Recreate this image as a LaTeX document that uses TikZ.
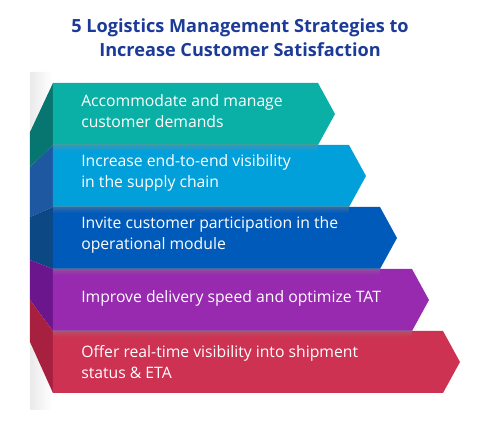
\documentclass[tikz,border=0pt]{standalone}
\usepackage{fontspec}
\setmainfont{Open Sans}
\definecolor{titleblue}{RGB}{28,58,152}
\definecolor{tealfront}{RGB}{10,175,166}
\definecolor{tealside}{RGB}{8,118,112}
\definecolor{skyfront}{RGB}{2,160,218}
\definecolor{skyside}{RGB}{30,88,160}
\definecolor{royalfront}{RGB}{0,90,186}
\definecolor{royalside}{RGB}{12,72,132}
\definecolor{purplefront}{RGB}{152,42,176}
\definecolor{purpleside}{RGB}{108,22,142}
\definecolor{redfront}{RGB}{206,50,82}
\definecolor{redside}{RGB}{168,32,64}

\begin{document}
\begin{tikzpicture}[x=0.75pt, y=-0.75pt,
    title/.style = {text = titleblue, font = \fontsize{13.6}{16.5}\selectfont\bfseries, align = center, inner sep = 0},
    bandtext/.style = {text = white, font = \fontsize{11.8}{15.75}\selectfont, align = left, anchor = west, inner sep = 0},
    topshade/.style = {top color = black!45, bottom color = #1, opacity = 0.35}]
    \useasboundingbox (0, 0) rectangle (480, 423);
    \fill[white] (0, 0) rectangle (480, 423);
    \shade[left color = black!8, right color = white] (30, 72) -- (50, 72) -- (53, 83) -- (30, 132) -- cycle;
    \shade[left color = black!8, right color = white] (30, 342) -- (53, 393) -- (50, 410) -- (30, 410) -- cycle;
    \node[title] (Title Line One) at (240, 28) {5 Logistics Management Strategies to};
    \node[title] (Title Line Two) at (240, 50) {Increase Customer Satisfaction};
    \fill[tealside] (53, 83) -- (53, 145) -- (30, 167) -- (30, 132) -- cycle;
    \fill[skyside] (53, 145) -- (53, 207) -- (30, 217) -- (30, 167) -- cycle;
    \fill[royalside] (53, 207) -- (53, 269) -- (30, 260) -- (30, 217) -- cycle;
    \fill[purpleside] (53, 269) -- (53, 331) -- (30, 300) -- (30, 260) -- cycle;
    \fill[redside] (53, 331) -- (53, 393) -- (30, 342) -- (30, 300) -- cycle;
    \fill[tealfront] (53, 83) -- (318, 83) -- (335, 114) -- (318, 145) -- (53, 145) -- cycle;
    \fill[skyfront] (53, 145) -- (349, 145) -- (366, 176) -- (349, 207) -- (53, 207) -- cycle;
    \fill[royalfront] (53, 207) -- (380, 207) -- (397, 238) -- (380, 269) -- (53, 269) -- cycle;
    \fill[purplefront] (53, 269) -- (412, 269) -- (429, 300) -- (412, 331) -- (53, 331) -- cycle;
    \fill[redfront] (53, 331) -- (443, 331) -- (460, 362) -- (443, 393) -- (53, 393) -- cycle;
    \shade[topshade = skyfront] (53, 145) rectangle (318, 151);
    \shade[topshade = royalfront] (53, 207) rectangle (349, 213);
    \shade[topshade = purplefront] (53, 269) rectangle (380, 275);
    \shade[topshade = redfront] (53, 331) rectangle (412, 337);
    \node[bandtext] (Accommodate) at (81, 111) {Accommodate and manage\\customer demands};
    \node[bandtext] (Visibility) at (81, 173) {Increase end-to-end visibility\\in the supply chain};
    \node[bandtext] (Participation) at (81, 235) {Invite customer participation in the\\operational module};
    \node[bandtext] (Delivery) at (81, 298) {Improve delivery speed and optimize TAT};
    \node[bandtext] (Real Time) at (81, 362) {Offer real-time visibility into shipment\\status \& ETA};
\end{tikzpicture}
\end{document}
